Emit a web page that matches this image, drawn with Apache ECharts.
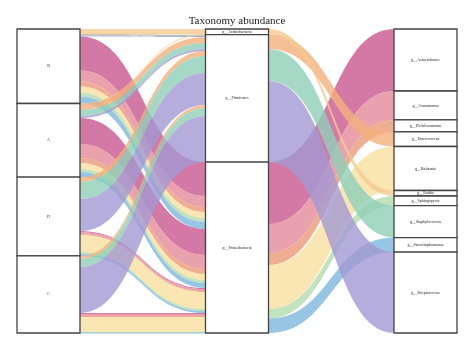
<!DOCTYPE html>
<html>
<head>
<meta charset="utf-8">
<script src="https://cdn.jsdelivr.net/npm/echarts@6/dist/echarts.min.js"></script>
<style>html,body{margin:0;padding:0;background:#fff;}#c{width:474px;height:351px;}</style>
</head>
<body>
<div id="c"></div>
<script>
const samples = ['B', 'A', 'D', 'C'];
const phyla = ['p__Actinobacteria', 'p__Firmicutes', 'p__Proteobacteria'];
const genera = ['g__Acinetobacter', 'g__Comamonas', 'g__Dechloromonas', 'g__Enterococcus', 'g__Ralstonia',
  'g__Rothia', 'g__Sphingopyxis', 'g__Staphylococcus', 'g__Stenotrophomonas', 'g__Streptococcus'];
const genusPhylum = [2, 2, 2, 1, 2, 0, 2, 1, 2, 1];
const genusColors = ['#c9578f', '#e38a9a', '#eb9a78', '#f2b07c', '#f8e0a0',
  '#f5c98e', '#b3dcae', '#8fd0b8', '#7db7dd', '#a398d2'];
// relative abundance per sample, in genus order
const abundB = [44.9, 14.5, 6.6, 0.7, 7.9, 6.6, 5.3, 1.3, 9.2, 1.3];
const abundA = [34.3, 18.5, 6.6, 7.9, 7.9, 0.7, 4.0, 7.9, 6.6, 2.6];
const abundD = [1.3, 2.6, 1.3, 6.6, 22.4, 0, 2.6, 22.4, 2.6, 42.2];
const abundC = [1.3, 2.6, 1.3, 4.0, 19.8, 0, 0.7, 10.6, 0.7, 60.7];
const sampleAbund = [abundB, abundA, abundD, abundC];

const nodes = [];
samples.forEach(n => nodes.push({ name: n }));
phyla.forEach(n => nodes.push({ name: n }));
genera.forEach(n => nodes.push({ name: n }));

const links = [];
samples.forEach((s, si) => {
  phyla.forEach((p, pi) => {
    genera.forEach((g, gi) => {
      const v = sampleAbund[si][gi];
      if (genusPhylum[gi] === pi && v > 0) {
        links.push({ source: s, target: p, value: v, lineStyle: { color: genusColors[gi] } });
      }
    });
  });
});
genera.forEach((g, gi) => {
  let tot = 0;
  sampleAbund.forEach(a => { tot += a[gi]; });
  links.push({ source: phyla[genusPhylum[gi]], target: g, value: tot, lineStyle: { color: genusColors[gi] } });
});

const chart = echarts.init(document.getElementById('c'), null, { renderer: 'canvas' });
chart.setOption({
  backgroundColor: '#fff',
  animation: false,
  title: {
    text: 'Taxonomy abundance',
    left: 'center',
    top: 11,
    textStyle: { fontFamily: 'Liberation Serif', fontSize: 11, fontWeight: 'normal', color: '#222' }
  },
  series: [{
    type: 'sankey',
    left: 17,
    right: 17,
    top: 29,
    bottom: 18,
    nodeWidth: 63,
    nodeGap: 0,
    layoutIterations: 0,
    draggable: false,
    emphasis: { disabled: true },
    data: nodes,
    links: links,
    itemStyle: { color: '#fff', borderColor: '#444', borderWidth: 1.3 },
    lineStyle: { opacity: 0.8, curveness: 0.5 },
    label: {
      position: 'inside',
      fontSize: 4,
      fontFamily: 'Liberation Serif',
      color: '#222'
    }
  }]
});
</script>
</body>
</html>
